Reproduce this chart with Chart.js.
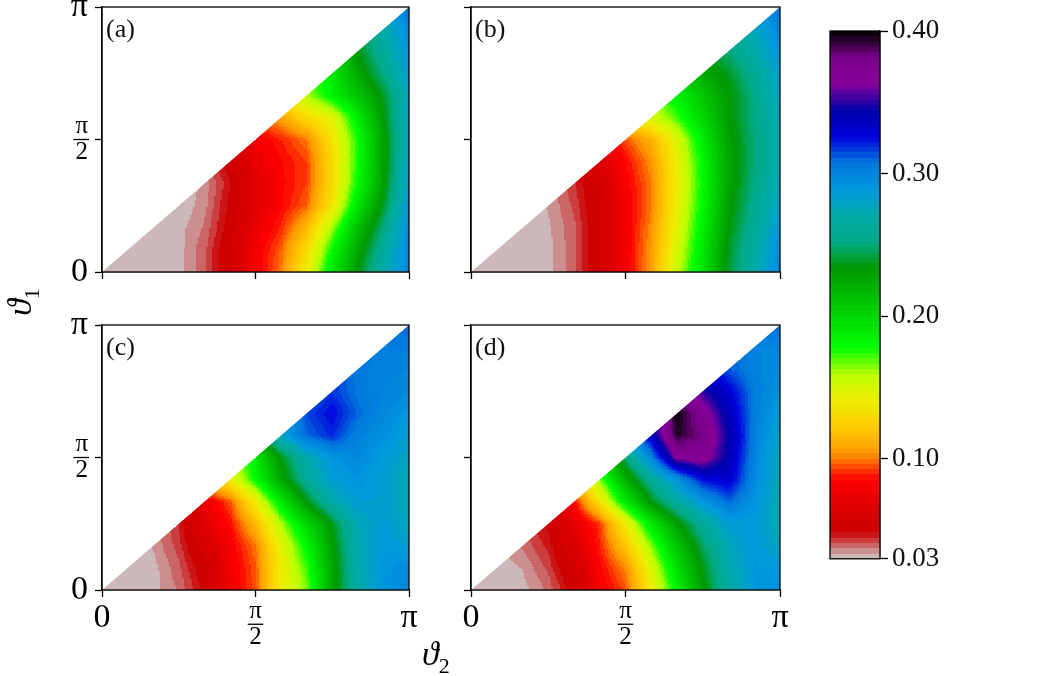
<!DOCTYPE html>
<html>
<head>
<meta charset="utf-8">
<script src="https://cdn.jsdelivr.net/npm/chart.js@4.4.0/dist/chart.umd.min.js"></script>
<style>
  body { margin: 0; background: #fff; width: 1050px; height: 676px; position: relative; overflow: hidden;
         font-family: 'Liberation Serif', 'DejaVu Serif', serif; }
  canvas { position: absolute; }
  .axlabel { position: absolute; font-style: italic; font-size: 34px; line-height: 36px; white-space: nowrap; }
  .axlabel span { font-style: normal; font-size: 22px; position: relative; top: 8px; }
</style>
</head>
<body>
<canvas id="pa" width="427" height="375" style="left:2px;top:-33px"></canvas>
<canvas id="pb" width="429" height="375" style="left:371px;top:-33px"></canvas>
<canvas id="pc" width="427" height="375" style="left:2px;top:285px"></canvas>
<canvas id="pd" width="429" height="375" style="left:371px;top:285px"></canvas>
<canvas id="cbar" width="160" height="588" style="left:820px;top:-9px"></canvas>
<div class="axlabel" id="lab1" style="left:-8px;top:282px;width:60px;text-align:center;transform:rotate(-90deg)">ϑ<span>1</span></div>
<div class="axlabel" id="lab2" style="left:422px;top:636px">ϑ<span>2</span></div>
<script>
// grid nodes for both angles, in units of pi
const thetaNodes = [0, 1/12, 2/12, 3/12, 4/12, 5/12, 6/12, 7/12, 8/12, 9/12, 10/12, 11/12, 1];

// axis ticks (units of pi)
const axisTicks = [0, 0.5, 1];
const axisTickLabels = ['0', ['π', '2'], 'π'];

// colour bar
const cbTicks = [0.03, 0.10, 0.20, 0.30, 0.40];
const cbTickLabels = ['0.03', '0.10', '0.20', '0.30', '0.40'];

// rows: theta1 node (bottom -> top), columns: theta2 node (left -> right)
const panelA = [
  [0.030, 0.030, 0.030, 0.032, 0.040, 0.055, 0.080, 0.100, 0.140, 0.190, 0.235, 0.270, 0.300],
  [null, 0.030, 0.030, 0.032, 0.040, 0.055, 0.080, 0.097, 0.130, 0.180, 0.225, 0.262, 0.300],
  [null, null, 0.030, 0.032, 0.038, 0.052, 0.075, 0.090, 0.115, 0.162, 0.212, 0.252, 0.295],
  [null, null, null, 0.030, 0.036, 0.050, 0.070, 0.085, 0.097, 0.136, 0.192, 0.238, 0.290],
  [null, null, null, null, 0.035, 0.048, 0.070, 0.084, 0.093, 0.130, 0.180, 0.230, 0.285],
  [null, null, null, null, null, 0.052, 0.075, 0.085, 0.093, 0.130, 0.177, 0.228, 0.282],
  [null, null, null, null, null, null, 0.080, 0.089, 0.100, 0.134, 0.177, 0.228, 0.280],
  [null, null, null, null, null, null, null, 0.108, 0.130, 0.146, 0.188, 0.233, 0.280],
  [null, null, null, null, null, null, null, null, 0.160, 0.185, 0.210, 0.238, 0.278],
  [null, null, null, null, null, null, null, null, null, 0.190, 0.225, 0.252, 0.286],
  [null, null, null, null, null, null, null, null, null, null, 0.235, 0.262, 0.292],
  [null, null, null, null, null, null, null, null, null, null, null, 0.268, 0.298],
  [null, null, null, null, null, null, null, null, null, null, null, null, 0.310]
];
const panelB = [
  [0.030, 0.030, 0.030, 0.032, 0.040, 0.055, 0.080, 0.106, 0.155, 0.192, 0.240, 0.268, 0.300],
  [null, 0.030, 0.030, 0.032, 0.040, 0.055, 0.080, 0.105, 0.150, 0.190, 0.238, 0.265, 0.295],
  [null, null, 0.030, 0.033, 0.040, 0.055, 0.080, 0.103, 0.145, 0.186, 0.233, 0.260, 0.290],
  [null, null, null, 0.034, 0.042, 0.056, 0.080, 0.100, 0.142, 0.182, 0.230, 0.256, 0.282],
  [null, null, null, null, 0.044, 0.058, 0.082, 0.100, 0.140, 0.180, 0.226, 0.252, 0.276],
  [null, null, null, null, null, 0.065, 0.085, 0.104, 0.142, 0.182, 0.226, 0.250, 0.272],
  [null, null, null, null, null, null, 0.095, 0.112, 0.148, 0.188, 0.228, 0.250, 0.272],
  [null, null, null, null, null, null, null, 0.150, 0.172, 0.200, 0.232, 0.252, 0.275],
  [null, null, null, null, null, null, null, null, 0.185, 0.208, 0.232, 0.253, 0.280],
  [null, null, null, null, null, null, null, null, null, 0.225, 0.238, 0.258, 0.285],
  [null, null, null, null, null, null, null, null, null, null, 0.250, 0.268, 0.292],
  [null, null, null, null, null, null, null, null, null, null, null, 0.276, 0.300],
  [null, null, null, null, null, null, null, null, null, null, null, null, 0.310]
];
const panelC = [
  [0.030, 0.030, 0.032, 0.038, 0.050, 0.078, 0.095, 0.140, 0.165, 0.225, 0.268, 0.290, 0.300],
  [null, 0.030, 0.032, 0.040, 0.053, 0.079, 0.096, 0.140, 0.172, 0.226, 0.270, 0.290, 0.297],
  [null, null, 0.034, 0.043, 0.060, 0.081, 0.100, 0.145, 0.182, 0.230, 0.272, 0.289, 0.285],
  [null, null, null, 0.045, 0.068, 0.086, 0.115, 0.160, 0.200, 0.236, 0.276, 0.286, 0.276],
  [null, null, null, null, 0.075, 0.095, 0.140, 0.190, 0.235, 0.270, 0.286, 0.284, 0.274],
  [null, null, null, null, null, 0.140, 0.180, 0.225, 0.260, 0.285, 0.292, 0.284, 0.274],
  [null, null, null, null, null, null, 0.190, 0.235, 0.270, 0.292, 0.298, 0.287, 0.278],
  [null, null, null, null, null, null, null, 0.280, 0.310, 0.320, 0.302, 0.294, 0.284],
  [null, null, null, null, null, null, null, null, 0.315, 0.326, 0.310, 0.298, 0.291],
  [null, null, null, null, null, null, null, null, null, 0.318, 0.306, 0.300, 0.297],
  [null, null, null, null, null, null, null, null, null, null, 0.305, 0.302, 0.300],
  [null, null, null, null, null, null, null, null, null, null, null, 0.303, 0.305],
  [null, null, null, null, null, null, null, null, null, null, null, null, 0.310]
];
const panelD = [
  [0.030, 0.030, 0.032, 0.038, 0.052, 0.080, 0.095, 0.138, 0.185, 0.230, 0.265, 0.288, 0.295],
  [null, 0.030, 0.034, 0.042, 0.058, 0.084, 0.102, 0.148, 0.195, 0.236, 0.270, 0.290, 0.288],
  [null, null, 0.038, 0.046, 0.064, 0.089, 0.120, 0.165, 0.210, 0.246, 0.276, 0.288, 0.280],
  [null, null, null, 0.050, 0.072, 0.092, 0.140, 0.190, 0.230, 0.260, 0.285, 0.287, 0.272],
  [null, null, null, null, 0.085, 0.135, 0.190, 0.235, 0.265, 0.290, 0.310, 0.292, 0.272],
  [null, null, null, null, null, 0.165, 0.220, 0.260, 0.292, 0.325, 0.332, 0.298, 0.274],
  [null, null, null, null, null, null, 0.250, 0.300, 0.365, 0.372, 0.340, 0.300, 0.276],
  [null, null, null, null, null, null, null, 0.335, 0.395, 0.380, 0.345, 0.303, 0.280],
  [null, null, null, null, null, null, null, null, 0.400, 0.372, 0.338, 0.304, 0.286],
  [null, null, null, null, null, null, null, null, null, 0.350, 0.330, 0.304, 0.293],
  [null, null, null, null, null, null, null, null, null, null, 0.312, 0.302, 0.296],
  [null, null, null, null, null, null, null, null, null, null, null, 0.300, 0.300],
  [null, null, null, null, null, null, null, null, null, null, null, null, 0.310]
];

// nipy_spectral colormap, used reversed
const nipyStops = [
  [0.00, 0.0000, 0.0000, 0.0000], [0.05, 0.4667, 0.0000, 0.5333], [0.10, 0.5333, 0.0000, 0.6000],
  [0.15, 0.0000, 0.0000, 0.6667], [0.20, 0.0000, 0.0000, 0.8667], [0.25, 0.0000, 0.4667, 0.8667],
  [0.30, 0.0000, 0.6000, 0.8667], [0.35, 0.0000, 0.6667, 0.6667], [0.40, 0.0000, 0.6667, 0.5333],
  [0.45, 0.0000, 0.6000, 0.0000], [0.50, 0.0000, 0.7333, 0.0000], [0.55, 0.0000, 0.8667, 0.0000],
  [0.60, 0.0000, 1.0000, 0.0000], [0.65, 0.7333, 1.0000, 0.0000], [0.70, 0.9333, 0.9333, 0.0000],
  [0.75, 1.0000, 0.8000, 0.0000], [0.80, 1.0000, 0.6000, 0.0000], [0.85, 1.0000, 0.0000, 0.0000],
  [0.90, 0.8667, 0.0000, 0.0000], [0.95, 0.8000, 0.0000, 0.0000], [1.00, 0.8000, 0.8000, 0.8000]
];

const serif = "'Liberation Serif', 'DejaVu Serif', serif";
const vMin = 0.03, vMax = 0.40, levelCount = 100;

function cmapColor(v) {
    let t = 1 - (v - vMin) / (vMax - vMin);
    t = Math.min(1, Math.max(0, t));
    for (let s = 1; s < nipyStops.length; s++) {
        const p = nipyStops[s - 1], q = nipyStops[s];
        if (t <= q[0]) {
            const f = (t - p[0]) / (q[0] - p[0]);
            const c = [1, 2, 3].map(k => Math.round(255 * (p[k] + (q[k] - p[k]) * f)));
            return `rgb(${c[0]},${c[1]},${c[2]})`;
        }
    }
    return 'rgb(204,204,204)';
}

// contour levels, like contourf
const levelColors = [];
for (let k = 0; k < levelCount; k++) {
    levelColors.push(cmapColor(vMin + (k + 0.5) * (vMax - vMin) / levelCount));
}
function levelColor(v) {
    let k = Math.floor((v - vMin) / (vMax - vMin) * levelCount);
    k = Math.min(levelCount - 1, Math.max(0, k));
    return levelColors[k];
}

// fills the triangle theta1 <= theta2 from the grid, through the chart scales
const heatmapPlugin = {
    id: 'heatmap',
    beforeDatasetsDraw(chart, args, opts) {
        const grid = opts.grid;
        if (!grid) return;
        const xs = chart.scales.x, ys = chart.scales.y, ctx = chart.ctx;
        const n = 16;
        ctx.save();
        ctx.beginPath();
        ctx.moveTo(xs.getPixelForValue(0), ys.getPixelForValue(0));
        ctx.lineTo(xs.getPixelForValue(1), ys.getPixelForValue(0));
        ctx.lineTo(xs.getPixelForValue(1), ys.getPixelForValue(1));
        ctx.closePath();
        ctx.clip();
        for (let j = 0; j < thetaNodes.length - 1; j++) {
            for (let i = j; i < thetaNodes.length - 1; i++) {
                const a = grid[j][i], b = grid[j][i + 1], c = grid[j + 1][i + 1], d = grid[j + 1][i];
                const xa = thetaNodes[i], xb = thetaNodes[i + 1];
                const ya = thetaNodes[j], yb = thetaNodes[j + 1];
                for (let sv = 0; sv < n; sv++) {
                    for (let su = 0; su < n; su++) {
                        if (d === null && sv > su) continue;
                        const u = (su + 0.5) / n, v = (sv + 0.5) / n;
                        let val;
                        if (d === null) val = a + (b - a) * u + (c - b) * v;
                        else val = a * (1 - u) * (1 - v) + b * u * (1 - v) + c * u * v + d * (1 - u) * v;
                        const px0 = Math.round(xs.getPixelForValue(xa + (xb - xa) * su / n));
                        const px1 = Math.round(xs.getPixelForValue(xa + (xb - xa) * (su + 1) / n));
                        const py0 = Math.round(ys.getPixelForValue(ya + (yb - ya) * sv / n));
                        const py1 = Math.round(ys.getPixelForValue(ya + (yb - ya) * (sv + 1) / n));
                        if (px1 === px0 || py0 === py1) continue;
                        ctx.fillStyle = levelColor(val);
                        ctx.fillRect(px0, py1, px1 - px0, py0 - py1);
                    }
                }
            }
        }
        ctx.restore();
    }
};

// colour bar bands
const colorbarPlugin = {
    id: 'colorbar',
    beforeDatasetsDraw(chart) {
        const ys = chart.scales.y, area = chart.chartArea, ctx = chart.ctx;
        for (let k = 0; k < levelCount; k++) {
            const v0 = vMin + k * (vMax - vMin) / levelCount;
            const v1 = vMin + (k + 1) * (vMax - vMin) / levelCount;
            const y0 = Math.round(ys.getPixelForValue(v0));
            const y1 = Math.round(ys.getPixelForValue(v1));
            ctx.fillStyle = levelColors[k];
            ctx.fillRect(area.left, y1, area.right - area.left, y0 - y1);
        }
    }
};

// box round the plot area and panel tag
const framePlugin = {
    id: 'frame',
    afterDraw(chart, args, opts) {
        const a = chart.chartArea, ctx = chart.ctx;
        ctx.save();
        ctx.strokeStyle = '#000';
        ctx.lineWidth = 1.3;
        ctx.strokeRect(a.left, a.top, a.right - a.left, a.bottom - a.top);
        if (opts.tag) {
            ctx.fillStyle = '#111';
            ctx.font = '26px ' + serif;
            ctx.textBaseline = 'top';
            ctx.fillText(opts.tag, a.left + 4, a.top + 10);
        }
        ctx.restore();
    }
};

// bar of the pi/2 fraction labels
const fracBarPlugin = {
    id: 'fracBar',
    afterDraw(chart) {
        const ctx = chart.ctx;
        ['x', 'y'].forEach(id => {
            const s = chart.scales[id];
            if (!s || !s.options.ticks.display || !s.getLabelItems) return;
            s.getLabelItems().forEach(it => {
                if (!Array.isArray(it.label)) return;
                const [tx, ty] = it.options.translation;
                ctx.save();
                ctx.font = it.font.string;
                const w = Math.max(...it.label.map(l => ctx.measureText(l).width)) + 3;
                const y = ty + it.textOffset + it.font.lineHeight / 2;
                let x0 = tx - w / 2;
                if (it.options.textAlign === 'right') x0 = tx - w + 1;
                if (it.options.textAlign === 'left') x0 = tx;
                ctx.strokeStyle = '#000';
                ctx.lineWidth = 1.3;
                ctx.beginPath();
                ctx.moveTo(x0, y);
                ctx.lineTo(x0 + w, y);
                ctx.stroke();
                ctx.restore();
            });
        });
    }
};

function tickFont(c) {
    return Array.isArray(axisTickLabels[c.index])
        ? { family: serif, size: 25, lineHeight: 1.05 }
        : { family: serif, size: 34 };
}

function makePanel(id, grid, tag, showX, showY) {
    return new Chart(document.getElementById(id), {
        type: 'scatter',
        data: { datasets: [] },
        options: {
            responsive: false,
            animation: false,
            events: [],
            layout: { padding: { top: 40, right: 20, left: 0, bottom: 0 } },
            scales: {
                x: {
                    type: 'linear', min: 0, max: 1,
                    afterBuildTicks: s => { s.ticks = axisTicks.map(v => ({ value: v })); },
                    afterFit: s => { s.height = 70; },
                    grid: { drawOnChartArea: false, tickLength: 7, tickColor: '#000', tickWidth: 1.3 },
                    border: { display: true, color: '#000', width: 1.3 },
                    ticks: {
                        display: showX, color: '#000', padding: 1, maxRotation: 0, minRotation: 0,
                        autoSkip: false, font: tickFont, callback: (v, i) => axisTickLabels[i]
                    }
                },
                y: {
                    type: 'linear', min: 0, max: 1,
                    afterBuildTicks: s => { s.ticks = axisTicks.map(v => ({ value: v })); },
                    afterFit: s => { s.width = 100; },
                    grid: { drawOnChartArea: false, tickLength: 7, tickColor: '#000', tickWidth: 1.3 },
                    border: { display: true, color: '#000', width: 1.3 },
                    ticks: {
                        display: showY, color: '#000', padding: 7, autoSkip: false,
                        font: tickFont, callback: (v, i) => axisTickLabels[i]
                    }
                }
            },
            plugins: {
                legend: { display: false },
                tooltip: { enabled: false },
                heatmap: { grid: grid },
                frame: { tag: tag }
            }
        },
        plugins: [heatmapPlugin, framePlugin, fracBarPlugin]
    });
}

makePanel('pa', panelA, '(a)', false, true);
makePanel('pb', panelB, '(b)', false, false);
makePanel('pc', panelC, '(c)', true, true);
makePanel('pd', panelD, '(d)', true, false);

new Chart(document.getElementById('cbar'), {
    type: 'scatter',
    data: { datasets: [] },
    options: {
        responsive: false,
        animation: false,
        events: [],
        layout: { padding: { top: 40, right: 0, left: 10, bottom: 20 } },
        scales: {
            x: { type: 'linear', display: false, min: 0, max: 1 },
            y: {
                type: 'linear', position: 'right', min: vMin, max: vMax,
                afterBuildTicks: s => { s.ticks = cbTicks.map(v => ({ value: v })); },
                afterFit: s => { s.width = 100; },
                grid: { drawOnChartArea: false, tickLength: 8, tickColor: '#000', tickWidth: 1.3 },
                border: { display: true, color: '#000', width: 1.3 },
                ticks: {
                    color: '#111', padding: 4, autoSkip: false,
                    font: { family: serif, size: 27 },
                    callback: (v, i) => cbTickLabels[i]
                }
            }
        },
        plugins: { legend: { display: false }, tooltip: { enabled: false }, frame: {} }
    },
    plugins: [colorbarPlugin, framePlugin]
});
</script>
</body>
</html>
